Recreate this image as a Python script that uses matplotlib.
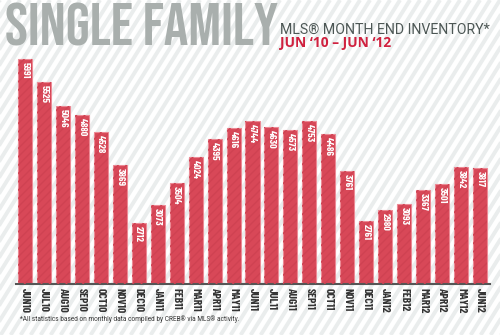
import matplotlib
matplotlib.use("Agg")
import numpy as np
import matplotlib.pyplot as plt
from matplotlib import font_manager

# data
months = ["JUN10", "JUL10", "AUG10", "SEP10", "OCT10", "NOV10", "DEC10",
          "JAN11", "FEB11", "MAR11", "APR11", "MAY11", "JUN11", "JUL11",
          "AUG11", "SEP11", "OCT11", "NOV11", "DEC11", "JAN12", "FEB12",
          "MAR12", "APR12", "MAY12", "JUN12"]
inventory = [5991, 5525, 5046, 4880, 4528, 3869, 2712,
             3073, 3504, 4024, 4395, 4616, 4744, 4630,
             4573, 4753, 4486, 3761, 2761, 2980, 3093,
             3367, 3501, 3842, 3817]


def pick_font(candidates):
    """Return the first installed family from the list."""
    installed = {f.name for f in font_manager.fontManager.ttflist}
    for name in candidates:
        if name in installed:
            return name
    return "DejaVu Sans"


title_font = pick_font(["Bebas Neue", "Fjalla One", "Barlow Condensed", "League Gothic"])
label_font = pick_font(["Barlow Condensed", "Roboto Condensed", "Archivo Narrow"])
sub_font = pick_font(["Roboto", "Lato", "DejaVu Sans"])
red_font = pick_font(["Open Sans", "DejaVu Sans"])

W, H = 500, 335
fig = plt.figure(figsize=(W / 100, H / 100), dpi=100)
renderer = fig.canvas.get_renderer()


def fit_width(txt, px):
    # scale the font so the text spans about px pixels
    w = txt.get_window_extent(renderer=renderer).width
    txt.set_fontsize(txt.get_fontsize() * px / w)


# striped background, pixel coordinates
bg = fig.add_axes([0, 0, 1, 1], zorder=-5)
bg.set_xlim(0, W)
bg.set_ylim(H, 0)
bg.axis("off")
bg.add_patch(plt.Rectangle((0, 0), W, H, color="white"))
slant = H / np.tan(np.radians(58))
for x0 in np.arange(-slant - 20, W + 20, 10):
    bg.plot([x0, x0 + slant], [H, 0], color="#eaeded", lw=2.8, solid_capstyle="butt")

# main bar axes
ax = fig.add_axes([15.5 / W, 1 - 284 / H, 474 / W, 239 / H])
ax.patch.set_alpha(0)
x = np.arange(len(months))
ax.bar(x, inventory, width=0.74, color="#d84858", edgecolor="#ec8a95", linewidth=0.8, zorder=2)
ax.bar(x, inventory, width=0.74, fill=False, hatch="////", edgecolor="#cf4252", linewidth=0, zorder=3)
ax.set_xlim(-0.5, len(months) - 0.5)
ax.set_ylim(1493, 6273)

for xi, v in zip(x, inventory):
    ax.text(xi, v - 60, str(v), rotation=270, ha="center", va="top",
            color="white", fontsize=7.4, fontweight="bold", family=label_font, zorder=4)

ax.set_xticks(x)
ax.set_xticklabels(months, rotation=270, family=label_font, fontsize=8.2,
                   fontweight="bold", color="#333333")
ax.tick_params(axis="x", length=0, pad=3)
ax.set_yticks([])
for side in ["top", "right", "left"]:
    ax.spines[side].set_visible(False)
ax.spines["bottom"].set_color("#555555")
ax.spines["bottom"].set_linewidth(1.5)

# titles
t = fig.text(5 / W, 1 - 45 / H, "SINGLE FAMILY", family=title_font, fontsize=44,
             fontweight="bold", color="#a9afad", ha="left", va="baseline")
fit_width(t, 273)
t = fig.text(280 / W, 1 - 33.5 / H, "MLS\u00ae MONTH END INVENTORY*", family=sub_font,
             fontsize=8, color="#4d5755", ha="left", va="baseline")
fit_width(t, 210)
t = fig.text(280 / W, 1 - 47 / H, "JUN \u201810 \u2013 JUN \u201812", family=red_font,
             fontsize=8, fontweight="bold", fontstyle="normal", color="#d0213f",
             ha="left", va="baseline")
fit_width(t, 112)

t = fig.text(20 / W, 1 - 321 / H,
             "*All statistics based on monthly data compiled by CREB\u00ae via MLS\u00ae activity.",
             family=sub_font, fontsize=4.6, color="#333333", ha="left", va="baseline")
fit_width(t, 220)

fig.savefig("out.png", dpi=100)
